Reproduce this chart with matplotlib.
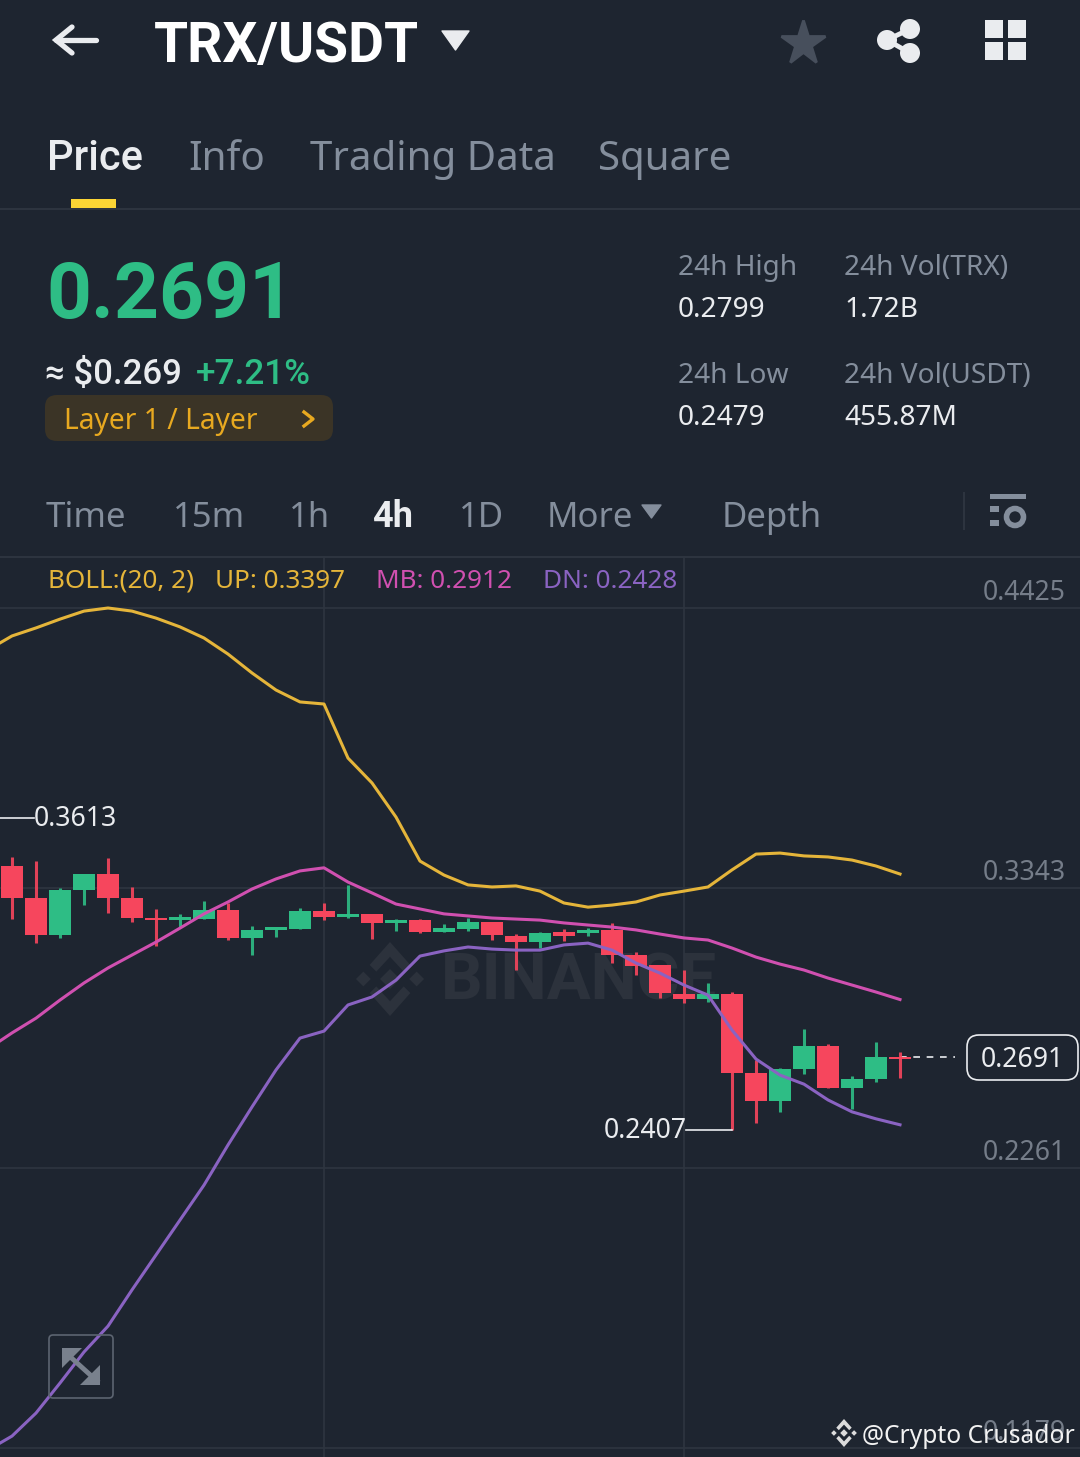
import matplotlib
matplotlib.use('Agg')
import matplotlib.pyplot as plt
from matplotlib.patches import Polygon, Rectangle, FancyBboxPatch, Circle

plt.rcParams['font.family'] = ['Noto Sans', 'DejaVu Sans']
BOLD = ['Roboto', 'DejaVu Sans']

# Colours
BG = '#1e2530'
LINE = '#2e3540'
WHITE = '#eaecef'
GREY = '#848e9c'
RED = '#f6465d'
GREEN = '#2ebd85'
YELLOW = '#e5b53a'
PINK = '#d050b0'
PURPLE = '#8a63c2'

# Candles, oldest first
Opens = [.3428, .3304, .3161, .3335, .3397, .3304, .3227, .3219, .3223, .3258,
         .3150, .3181, .3185, .3254, .3231, .3243, .3208, .3219, .3173, .3185,
         .3212, .3157, .3134, .3173, .3169, .3181, .3084, .3046, .2933, .2914,
         .2933, .2629, .2520, .2644, .2733, .2571, .2605, .2691]
Closes = [.3304, .3161, .3335, .3397, .3304, .3227, .3219, .3231, .3258, .3150,
          .3181, .3192, .3254, .3231, .3243, .3208, .3219, .3173, .3188, .3212,
          .3161, .3134, .3169, .3157, .3181, .3084, .3042, .2937, .2914, .2933,
          .2629, .2520, .2644, .2733, .2571, .2605, .2691, .2683]
Highs = [.3463, .3447, .3343, .3397, .3459, .3347, .3262, .3243, .3293, .3285,
         .3196, .3192, .3266, .3285, .3355, .3243, .3223, .3223, .3204, .3227,
         .3212, .3165, .3173, .3185, .3188, .3208, .3096, .3046, .3026, .2976,
         .2941, .2679, .2648, .2798, .2741, .2617, .2748, .2710]
Lows = [.3223, .3130, .3150, .3277, .3246, .3212, .3119, .3192, .3223, .3142,
        .3084, .3154, .3185, .3219, .3227, .3146, .3177, .3169, .3173, .3177,
        .3142, .3026, .3111, .3138, .3157, .3053, .3007, .2918, .2899, .2903,
        .2407, .2435, .2478, .2625, .2571, .2489, .2594, .2609]

# Bollinger bands, the first value is at the left edge of the chart
Boll_X = [-0.5] + list(range(38))
Boll_Up = [.4290, .4317, .4348, .4382, .4413, .4425, .4413, .4386, .4352, .4309,
           .4247, .4174, .4108, .4062, .4054, .3845, .3749, .3617, .3447, .3393,
           .3355, .3347, .3351, .3331, .3285, .3269, .3277, .3289, .3316, .3331,
           .3347, .3413, .3474, .3478, .3467, .3463, .3451, .3428, .3397]
Boll_Mid = [.2752, .2783, .2840, .2910, .2976, .3034, .3084, .3134, .3188, .3243,
            .3289, .3339, .3378, .3409, .3421, .3366, .3324, .3281, .3262, .3243,
            .3235, .3227, .3223, .3219, .3208, .3200, .3192, .3181, .3165, .3150,
            .3142, .3111, .3076, .3049, .3026, .2995, .2968, .2941, .2912]
Boll_Dn = [.1198, .1225, .1314, .1430, .1550, .1650, .1790, .1925, .2060, .2195,
           .2350, .2497, .2640, .2763, .2790, .2891, .2922, .2987, .3080, .3100,
           .3115, .3107, .3103, .3103, .3123, .3130, .3103, .3053, .3014, .2968,
           .2929, .2794, .2682, .2620, .2585, .2524, .2478, .2451, .2428]

# Axis
Price_Ticks = [.4425, .3343, .2261, .1179]
Time_Grid = [13, 28]
Last_Price = .2691
Max_Price = .3613
Min_Price = .2407

# Header texts
Tabs = [('Price', 47, WHITE), ('Info', 188, GREY), ('Trading Data', 310, GREY), ('Square', 598, GREY)]
Intervals = [('Time', 46, GREY), ('15m', 173, GREY), ('1h', 289, GREY), ('4h', 372, WHITE),
             ('1D', 459, GREY), ('More', 547, GREY), ('Depth', 722, GREY)]
Stats = [('24h High', '0.2799', 678, 276), ('24h Vol(TRX)', '1.72B', 844, 276),
         ('24h Low', '0.2479', 678, 384), ('24h Vol(USDT)', '455.87M', 844, 384)]
Legend = [('BOLL:(20, 2)', 48, YELLOW), ('UP: 0.3397', 215, YELLOW),
          ('MB: 0.2912', 376, PINK), ('DN: 0.2428', 543, PURPLE)]

W, H = 1080, 1457
CHART_TOP = 558
fig = plt.figure(figsize=(W / 100, H / 100), dpi=100, facecolor=BG)


def pixel_axes(z):
    a = fig.add_axes([0, 0, 1, 1], zorder=z)
    a.set_xlim(0, W)
    a.set_ylim(H, 0)
    a.axis('off')
    a.patch.set_alpha(0)
    return a


def binance_logo(a, cx, cy, s, color):
    # centre, side and top/bottom pieces of the diamond logo
    def diamond(x, y, r):
        a.add_patch(Polygon([(x - r, y), (x, y - r), (x + r, y), (x, y + r)], fc=color, ec='none'))
    diamond(cx, cy, 0.27 * s)
    diamond(cx - 0.72 * s, cy, 0.2 * s)
    diamond(cx + 0.72 * s, cy, 0.2 * s)
    for d in (-1, 1):
        a.add_patch(Polygon([(cx - 0.55 * s, cy + d * 0.38 * s), (cx, cy + d * s), (cx + 0.55 * s, cy + d * 0.38 * s),
                             (cx + 0.37 * s, cy + d * 0.2 * s), (cx, cy + d * 0.6 * s), (cx - 0.37 * s, cy + d * 0.2 * s)],
                            fc=color, ec='none'))


back = pixel_axes(0)
ax = fig.add_axes([0, 0, 1, (H - CHART_TOP) / H], zorder=1)
ui = pixel_axes(2)

# Watermark sits under the candles
binance_logo(back, 390, 979, 37, '#2c323c')
back.text(441, 1000, 'BINANCE', family=BOLD, fontsize=47, fontweight='bold', color='#2c323c', va='baseline')

# Chart
PX_PER_PRICE = 280 / (Price_Ticks[0] - Price_Ticks[1])
ax.set_xlim(-0.5, 44.5)
ax.set_ylim(Price_Ticks[0] - (H - 608) / PX_PER_PRICE, Price_Ticks[0] + 50 / PX_PER_PRICE)
ax.axis('off')
ax.patch.set_alpha(0)
for p in Price_Ticks:
    ax.axhline(p, color=LINE, lw=1.2, zorder=1)
    ax.text(43.9, p + 8 / PX_PER_PRICE, '%.4f' % p, color='#757d89', fontsize=19.2, ha='right', va='baseline', zorder=5)
for t in Time_Grid:
    ax.axvline(t, color=LINE, lw=1.2, zorder=1)

for i in range(len(Opens)):
    c = GREEN if Closes[i] >= Opens[i] else RED
    ax.vlines(i, Lows[i], Highs[i], color=c, lw=2.2, zorder=3, alpha=0.9)
    ax.bar(i, abs(Closes[i] - Opens[i]), bottom=min(Opens[i], Closes[i]), width=0.88, color=c, zorder=3)

ax.plot(Boll_X, Boll_Up, color=YELLOW, lw=2.2, zorder=4)
ax.plot(Boll_X, Boll_Mid, color=PINK, lw=2.2, zorder=4)
ax.plot(Boll_X, Boll_Dn, color=PURPLE, lw=2.2, zorder=4)

# Highest and lowest price labels
ax.plot([-0.5, 0.9], [Max_Price, Max_Price], color=WHITE, lw=1.2, zorder=4)
ax.text(0.9, Max_Price - 8 / PX_PER_PRICE, '%.4f' % Max_Price, color=WHITE, fontsize=19.2, va='baseline', zorder=5)
ax.plot([28.1, 30], [Min_Price, Min_Price], color=WHITE, lw=1.2, zorder=4)
ax.text(28.1, Min_Price - 8 / PX_PER_PRICE, '%.4f' % Min_Price, color=WHITE, fontsize=19.2, ha='right', va='baseline', zorder=5)

# Last price marker
ax.plot([37, 39.3], [Last_Price, Last_Price], color=WHITE, lw=1.2, ls=(0, (4, 4)), zorder=2)
ui.add_patch(FancyBboxPatch((974, 1042), 97, 31, boxstyle='round,pad=7,rounding_size=12', fc=BG, ec=WHITE, lw=1.2))
ui.text(1022, 1067, '%.4f' % Last_Price, color=WHITE, fontsize=19.2, ha='center', va='baseline')

# Top bar
ui.plot([96, 56], [40, 40], color=WHITE, lw=3.8, solid_capstyle='round')
ui.plot([72, 56, 72], [27, 40, 53], color=WHITE, lw=3.8, solid_capstyle='round', solid_joinstyle='miter')
ui.text(154, 62, 'TRX/USDT', family=BOLD, color='white', fontsize=39.7, fontweight='bold', va='baseline')
ui.add_patch(Polygon([(442, 31), (469, 31), (455.5, 50)], fc=WHITE, ec=WHITE, lw=1, joinstyle='round'))
ui.plot([803], [43], marker='*', ms=33, color='#474f5c', mec='#474f5c', mew=2)
for cx, cy in [(910, 29), (887, 40), (910, 53)]:
    ui.add_patch(Circle((cx, cy), 10, fc=WHITE, ec='none'))
ui.plot([910, 887, 910], [29, 40, 53], color=WHITE, lw=3.5)
for x0, y0 in [(985, 20), (1008, 20), (985, 42), (1008, 42)]:
    ui.add_patch(Rectangle((x0, y0), 17.5, 18, fc=WHITE, ec='none'))

# Tabs
for label, x, c in Tabs:
    if label == 'Price':
        ui.text(x, 170, label, family=BOLD, color=c, fontsize=30, fontweight='medium', va='baseline')
    else:
        ui.text(x, 170, label, color=c, fontsize=29, va='baseline')
ui.add_patch(Rectangle((71, 199), 45, 9, fc='#fcd535', ec='none'))
ui.plot([0, W], [209, 209], color=LINE, lw=1.4)

# Price block
ui.text(46, 318, '0.2691', family=BOLD, color=GREEN, fontsize=56.5, fontweight='bold', va='baseline')
ui.text(45, 384, '≈ $0.269', family=BOLD, color=WHITE, fontsize=25, fontweight='medium', va='baseline')
ui.text(196, 384, '+7.21%', family=BOLD, color=GREEN, fontsize=25.3, fontweight='medium', va='baseline')
ui.add_patch(FancyBboxPatch((53, 403), 272, 30, boxstyle='round,pad=8,rounding_size=12', fc='#3b3426', ec='none'))
ui.text(64, 429, 'Layer 1 / Layer', color='#e8a920', fontsize=20.3, va='baseline')
ui.plot([304, 313, 304], [412, 419, 426], color='#e8a920', lw=2.4)

for label, value, x, y in Stats:
    ui.text(x, y - 1, label, color=GREY, fontsize=20.2, va='baseline')
    ui.text(x, y + 41, value, color=WHITE, fontsize=20.2, va='baseline')

# Interval row
for label, x, c in Intervals:
    if label == '4h':
        ui.text(x, 527, label, family=BOLD, color=c, fontsize=26, fontweight='bold', va='baseline')
    else:
        ui.text(x, 527, label, color=c, fontsize=25, va='baseline')
ui.add_patch(Polygon([(642, 505), (661, 505), (651.5, 518)], fc=GREY, ec=GREY, lw=1, joinstyle='round'))
ui.plot([964, 964], [493, 529], color=LINE, lw=1.4)
ui.add_patch(Rectangle((990, 494), 36, 5, fc=GREY, ec='none'))
ui.add_patch(Rectangle((990, 506), 9, 6, fc=GREY, ec='none'))
ui.add_patch(Rectangle((990, 520), 9, 6, fc=GREY, ec='none'))
ui.add_patch(Circle((1015, 517), 8.5, fc=BG, ec=GREY, lw=4))
ui.plot([0, W], [557, 557], color=LINE, lw=1.4)

for label, x, c in Legend:
    ui.text(x, 588, label, color=c, fontsize=18.8, va='baseline')

# Expand button
ui.add_patch(FancyBboxPatch((50, 1336), 62, 61, boxstyle='round,pad=1,rounding_size=4', fc='none', ec='#5c6470', lw=1.2))
ui.plot([66, 97], [1353, 1381], color='#79818d', lw=3.5)
ui.add_patch(Polygon([(62, 1348), (82, 1348), (62, 1368)], fc='#79818d', ec='none'))
ui.add_patch(Polygon([(100, 1385), (80, 1385), (100, 1365)], fc='#79818d', ec='none'))

# Credit
binance_logo(ui, 844, 1433, 14, '#dcdcdc')
ui.text(862, 1443, '@Crypto Crusador', color='#f2f2f2', fontsize=17.7, va='baseline')

fig.savefig('out.png', dpi=100, facecolor=BG)
